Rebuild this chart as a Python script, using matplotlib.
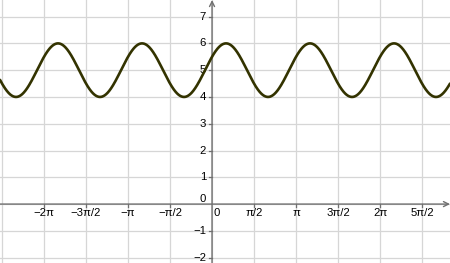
import numpy as np
import matplotlib
matplotlib.use("Agg")
import matplotlib.pyplot as plt
from matplotlib import transforms

# ---- data ----
# curve: f(x) = offset + amplitude * sin(freq * x + phase)
amplitude = 1.0
offset = 5.0
freq = 2.0
phase = np.pi / 6

x_tick_halfpi = [-4, -3, -2, -1, 0, 1, 2, 3, 4, 5]
x_tick_labels = ["\u22122\u03c0", "\u22123\u03c0/2", "\u2212\u03c0", "\u2212\u03c0/2", "0",
                 "\u03c0/2", "\u03c0", "3\u03c0/2", "2\u03c0", "5\u03c0/2"]
y_ticks = [-2, -1, 0, 1, 2, 3, 4, 5, 6, 7]
y_tick_labels = ["\u22122", "\u22121", "0", "1", "2", "3", "4", "5", "6", "7"]

xmin, xmax = -7.93, 8.90
ymin, ymax = -2.20, 7.62

plt.rcParams['font.family'] = ['Liberation Sans', 'DejaVu Sans']

fig = plt.figure(figsize=(4.5, 2.63), dpi=100)
ax = fig.add_axes([0, 0, 1, 1])
ax.set_xlim(xmin, xmax)
ax.set_ylim(ymin, ymax)
for s in ax.spines.values():
    s.set_visible(False)
ax.set_xticks([])
ax.set_yticks([])

grid_col = "#d6d6d6"
axis_col = "#707070"
xt = [k * np.pi / 2 for k in x_tick_halfpi]
for xv in xt:
    ax.axvline(xv, color=grid_col, lw=0.9, zorder=1)
ax.axvline(-5 * np.pi / 2, color=grid_col, lw=0.9, zorder=1)
for yv in y_ticks:
    ax.axhline(yv, color=grid_col, lw=0.9, zorder=1)

# axes with open arrows
ax.annotate("", xy=(xmax, 0), xytext=(xmin, 0),
            arrowprops=dict(arrowstyle="->", color=axis_col, lw=1.0,
                            shrinkA=0, shrinkB=0, mutation_scale=9), zorder=2)
ax.annotate("", xy=(0, ymax), xytext=(0, ymin),
            arrowprops=dict(arrowstyle="->", color=axis_col, lw=1.0,
                            shrinkA=0, shrinkB=0, mutation_scale=9), zorder=2)

fs = 8.2
for xv, lab in zip(xt, x_tick_labels):
    dx = 5 / 100 if lab == "0" else 0
    tr = ax.transData + transforms.ScaledTranslation(dx, -4 / 100, fig.dpi_scale_trans)
    ax.text(xv, 0, lab, transform=tr, ha="center", va="top", fontsize=fs, color="black")
for yv, lab in zip(y_ticks, y_tick_labels):
    dy = 5 / 100 if lab == "0" else 0
    tr = ax.transData + transforms.ScaledTranslation(-6 / 100, dy, fig.dpi_scale_trans)
    ax.text(0, yv, lab, transform=tr, ha="right", va="center", fontsize=fs, color="black")

# small tick marks
for yv in y_ticks:
    if yv == 0:
        continue
    x0 = ax.transData.inverted().transform(ax.transData.transform((0, yv)) - np.array([3, 0]))[0]
    ax.plot([x0, 0], [yv, yv], color=axis_col, lw=0.9, zorder=2)
for xv in xt:
    if abs(xv) < 1e-9:
        continue
    y0 = ax.transData.inverted().transform(ax.transData.transform((xv, 0)) - np.array([0, 3]))[1]
    ax.plot([xv, xv], [y0, 0], color=axis_col, lw=0.9, zorder=2)

# curve
xs = np.linspace(xmin, xmax, 2000)
ys = offset + amplitude * np.sin(freq * xs + phase)
ax.plot(xs, ys, color="#333300", lw=1.9, zorder=3, solid_capstyle="round")

fig.savefig("out.png", dpi=100)
